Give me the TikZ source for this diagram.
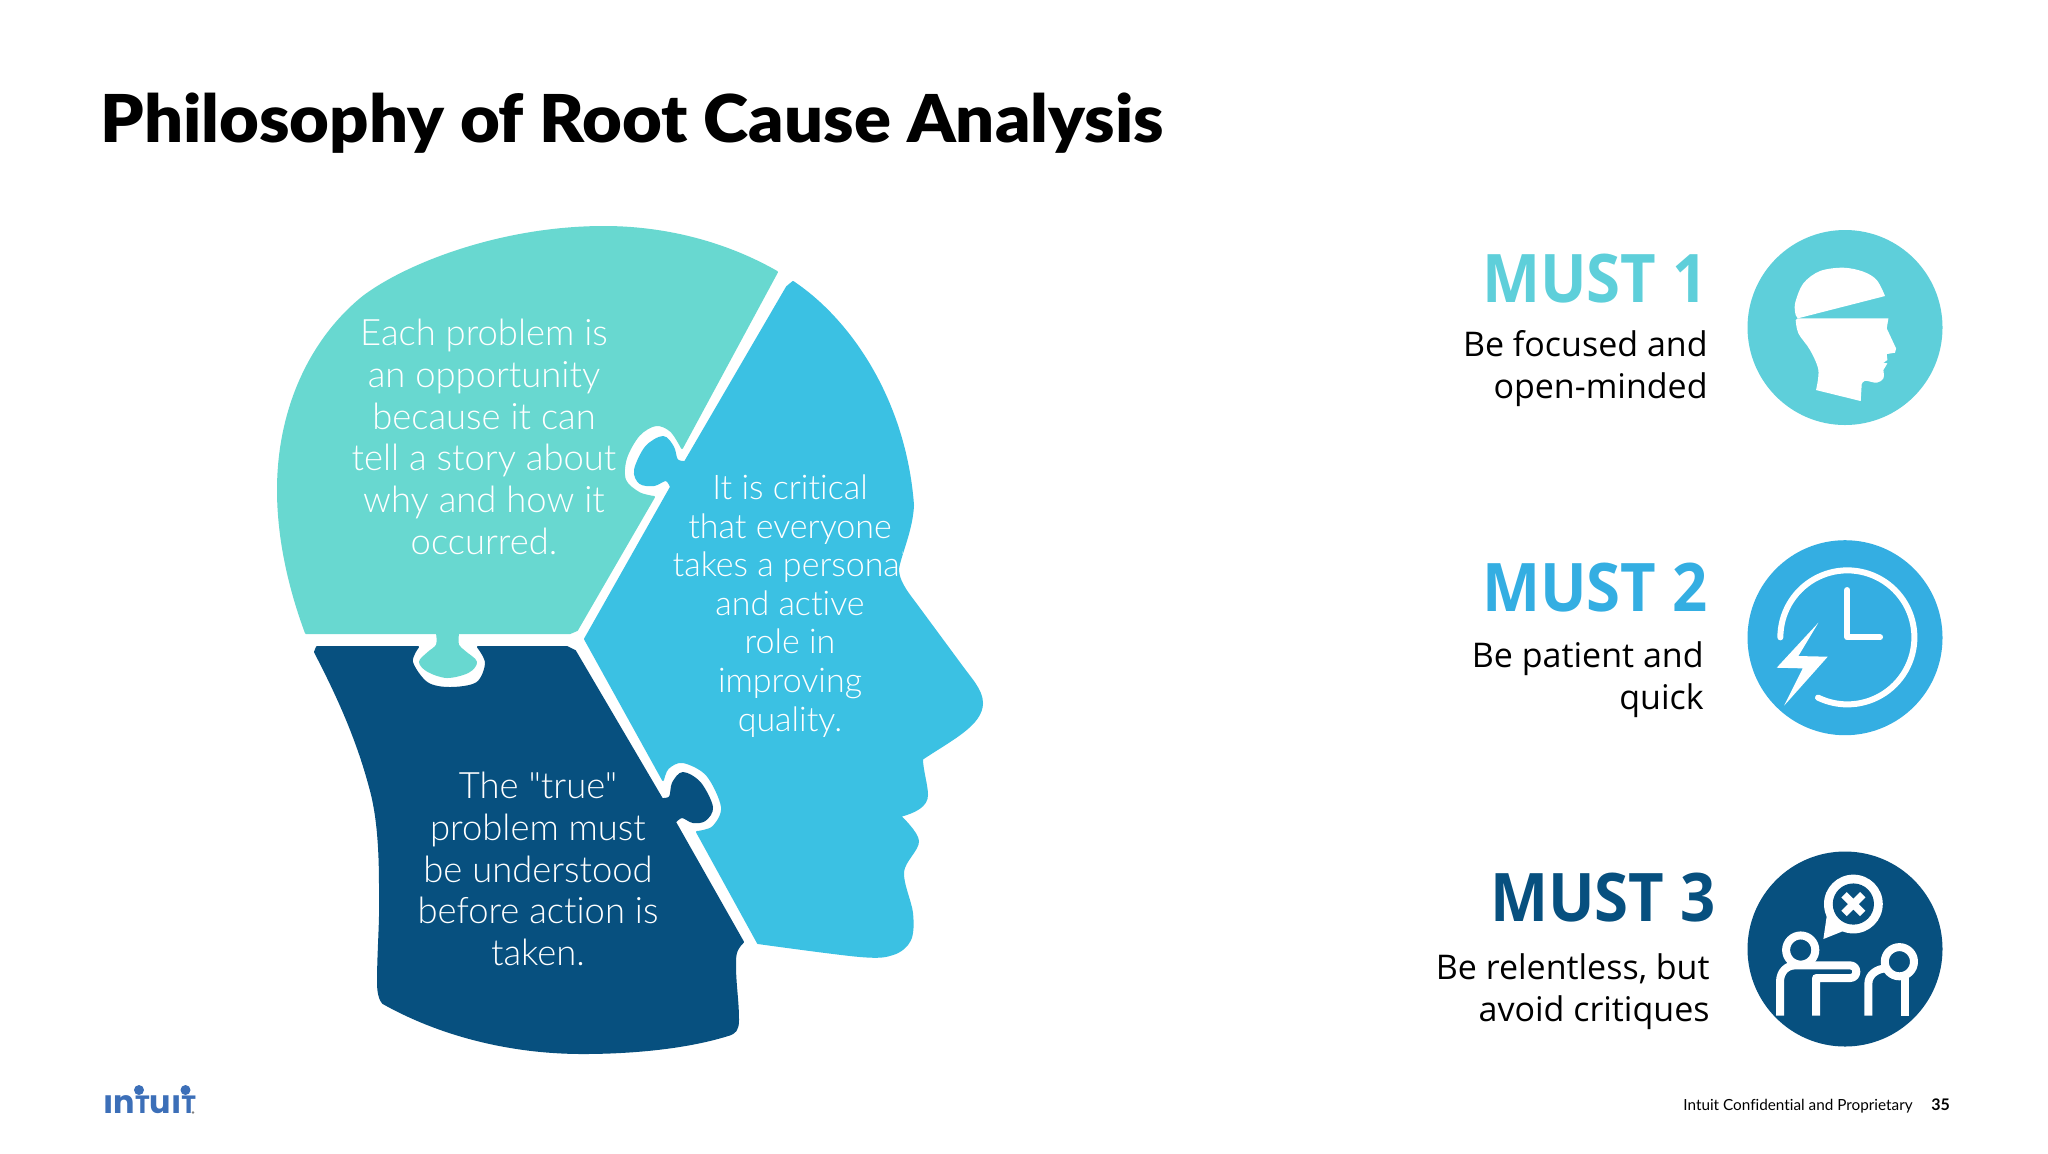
\documentclass[tikz,border=0pt]{standalone}
\usepackage{fontspec}
\setmainfont[Ligatures=NoCommon]{Lato}
\newfontfamily\lightf[Ligatures=NoCommon]{Lato Light}
\newfontfamily\blackf[FakeStretch=1.04]{Lato Black}
\newfontfamily\osans{Open Sans}
\newfontfamily\osnarrow[FakeStretch=0.92]{Open Sans}
\newfontfamily\popp{Poppins}
\definecolor{cteal}{HTML}{68D8D0}
\definecolor{cblue}{HTML}{3BC1E3}
\definecolor{cdark}{HTML}{07507F}
\definecolor{cone}{HTML}{5ECFDA}
\definecolor{ctwo}{HTML}{34AEE2}
\definecolor{clogo}{HTML}{3C6FB8}
\tikzset{
 piece/.style={line width=1pt,line join=round},
 sm/.style={smooth,tension=0.55},
 body/.style={text=white,align=center,inner sep=0pt},
 must/.style={anchor=base east,inner sep=0pt,font=\osnarrow\bfseries\fontsize{33.5}{36}\selectfont},
 desc/.style={anchor=base east,inner sep=0pt,text=black,font=\osans\fontsize{17}{20}\selectfont},
 icon/.style={white,line width=3pt,line cap=round,line join=round},
 iconb/.style={white,line width=4pt,line join=round}
}
\def\bluepath{(787,287) -- (793,282) .. controls (850,320) and (905,400) .. (913,505) .. controls (912,530) and (900,555) .. (898,569) .. controls (898,580) and (905,590) .. (915,603) -- (960,664) .. controls (970,678) and (982,690) .. (982,703) .. controls (982,725) and (950,740) .. (922,759) .. controls (922,770) and (927,785) .. (927,795) .. controls (927,806) and (915,812) .. (900,816) -- plot[sm] coordinates {(900,816)(918,841)(903,872)(912,913)(910,940)(893,954)(860,956)(758,943)} -- plot[sm] coordinates {(697,832)(713,827)(722,807)(707,775)(683,762)(668,768)(663,780)} -- (585,639) -- plot[sm] coordinates {(671,487)(666,480)(654,485)(640,483)(635,470)(646,447)(663,437)(673,447)(677,460)(685,462)} -- cycle}
\begin{document}
\begin{tikzpicture}[x=0.5pt,y=-0.5pt]
\useasboundingbox (0,0) rectangle (2048,1153);
\fill[white] (0,0) rectangle (2048,1153);
\node[anchor=base west,inner sep=0pt,text=black,font=\blackf\fontsize{33}{36}\selectfont] (title) at (100,142) {Philosophy of Root Cause Analysis};

% head pieces
\fill[cteal,draw=cteal,piece] (306,633) .. controls (290,590) and (278,540) .. (278,490) .. controls (278,410) and (310,340) .. (363,297) .. controls (405,265) and (500,227) .. (604,227) .. controls (670,227) and (730,245) .. (777,272) -- plot[sm] coordinates {(682,448)(671,431)(656,425)(639,435)(626,458)(625,480)(639,493)(654,497)} -- (577,630) -- (570,633) -- plot[sm] coordinates {(458,633)(458,645)(465,652)(476,662)(468,672)(447,677)(428,671)(420,662)(428,653)(437,645)(437,633)} -- cycle;
\fill[cdark,draw=cdark,piece] (317,647) -- plot[sm] coordinates {(418,647)(412,662)(427,683)(450,688)(477,683)(486,663)(478,647)} -- (567,647) -- (575,651) -- plot[sm] coordinates {(662,799)(670,797)(673,783)(683,773)(700,783)(712,807)(705,820)(693,822)(682,817)(675,822)} -- (743,942) .. controls (735,950) and (735,955) .. (735,965) .. controls (735,985) and (738,1000) .. (738,1020) .. controls (738,1030) and (735,1033) .. (728,1035) .. controls (680,1050) and (620,1053) .. (583,1053) .. controls (510,1053) and (440,1035) .. (383,1003) .. controls (380,1000) and (378,992) .. (378,983) .. controls (378,950) and (381,920) .. (380,887) .. controls (380,850) and (378,815) .. (370,787) .. controls (358,742) and (340,700) .. (315,652) -- cycle;
\fill[cblue,draw=cblue,piece] \bluepath;

% body texts
\node[body,font=\lightf\fontsize{18.2}{20.85}\selectfont] (tealtext) at (484,437) {Each problem is\\an opportunity\\because it can\\tell a story about\\why and how it\\occurred.};
\begin{scope}
\clip \bluepath;
\node[body,font=\lightf\fontsize{17}{19.3}\selectfont] (bluetext) at (790,606) {It is critical\\that everyone\\takes a personal\\and active\\role in\\improving\\quality.};
\end{scope}
\node[body,font=\lightf\fontsize{18.2}{20.85}\selectfont] (darktext) at (538,869) {The "true"\\problem must\\be understood\\before action is\\taken.};

% right column
\node[must,text=cone] (m1) at (1708,302) {MUST 1};
\node[desc] (d1a) at (1708,356.5) {Be focused and};
\node[desc] (d1b) at (1708,398) {open-minded};
\node[must,text=ctwo] (m2) at (1708,611.5) {MUST 2};
\node[desc] (d2a) at (1704,667) {Be patient and};
\node[desc] (d2b) at (1704,709) {quick};
\node[must,text=cdark] (m3) at (1716,921) {MUST 3};
\node[desc] (d3a) at (1710,979.5) {Be relentless, but};
\node[desc] (d3b) at (1710,1021) {avoid critiques};

% circle 1 : head icon
\fill[cone] (1845,327.5) circle[radius=48.75pt];
\begin{scope}[shift={(1730,220)},x=0.1667pt,y=-0.1667pt]
\fill[white] (203,295) -- plot[sm] coordinates {(465,228)(440,180)(400,155)(340,143)(270,153)(220,190)(195,250)(197,285)} -- cycle;
\fill[white] (203,295) -- (475,295) -- (470,325) -- (498,385) -- (495,398) -- (470,402) -- (472,420) -- (460,428) -- (472,430) -- plot[sm] coordinates {(460,450)(460,475)(440,488)(405,482)(395,492)} -- (392,543) -- plot[sm] coordinates {(258,510)(265,450)(240,390)(205,340)(197,300)} -- cycle;
\end{scope}

% circle 2 : clock icon
\fill[ctwo] (1845,637.7) circle[radius=48.75pt];
\begin{scope}[shift={(1730,530)},x=0.1667pt,y=-0.1667pt]
\draw[icon] plot[smooth,domain=180:476,samples=80] ({352+201*cos(\x)},{322+201*sin(\x)});
\draw[icon] (352,180) -- (352,322) -- (450,322);
\fill[white] (265,278) -- (205,378) -- (293,380) -- (162,527) -- (218,415) -- (140,413) -- cycle;
\end{scope}

% circle 3 : critique icon
\fill[cdark] (1845,949) circle[radius=48.75pt];
\begin{scope}[shift={(1730,840)},x=0.1667pt,y=-0.1667pt]
\fill[white] (370,192) circle[radius=14.7pt];
\fill[white] (280,297) -- (292,215) -- (352,268) -- cycle;
\fill[cdark] (370,192) circle[radius=10.3pt];
\draw[white,line width=3.8pt] (342,164) -- (398,220) (398,164) -- (342,220);
\draw[iconb] (212,330) circle[radius=7.3pt];
\draw[iconb] (508,365) circle[radius=7.3pt];
\draw[iconb] (150,527) -- (150,425) .. controls (150,395) and (170,376) .. (195,376) -- (360,376) .. controls (385,376) and (385,414) .. (360,414) -- (258,414) -- (258,527);
\draw[iconb] (415,527) -- (415,430) .. controls (415,405) and (440,385) .. (470,385);
\draw[iconb] (525,410) -- (525,527);
\end{scope}

% logo
\node[anchor=base west,inner sep=0pt,text=clogo,font=\popp\bfseries] (logo) at (103,1113) {\fontsize{15.9}{18}\selectfont ın\fontsize{12.5}{18}\selectfont T\fontsize{15.9}{18}\selectfont uı\fontsize{12.5}{18}\selectfont T};
\fill[clogo] (139,1090) circle[radius=2.5pt] (185.5,1090) circle[radius=2.5pt];
\fill[gray] (193,1112.5) circle[radius=0.7pt];

% footer
\node[anchor=base west,inner sep=0pt,text=black,font=\fontsize{7.65}{10}\selectfont] (foot) at (1683,1110) {Intuit Confidential and Proprietary};
\node[anchor=base west,inner sep=0pt,text=black,font=\bfseries\fontsize{8}{10}\selectfont] (page) at (1931,1110) {35};
\end{tikzpicture}
\end{document}
